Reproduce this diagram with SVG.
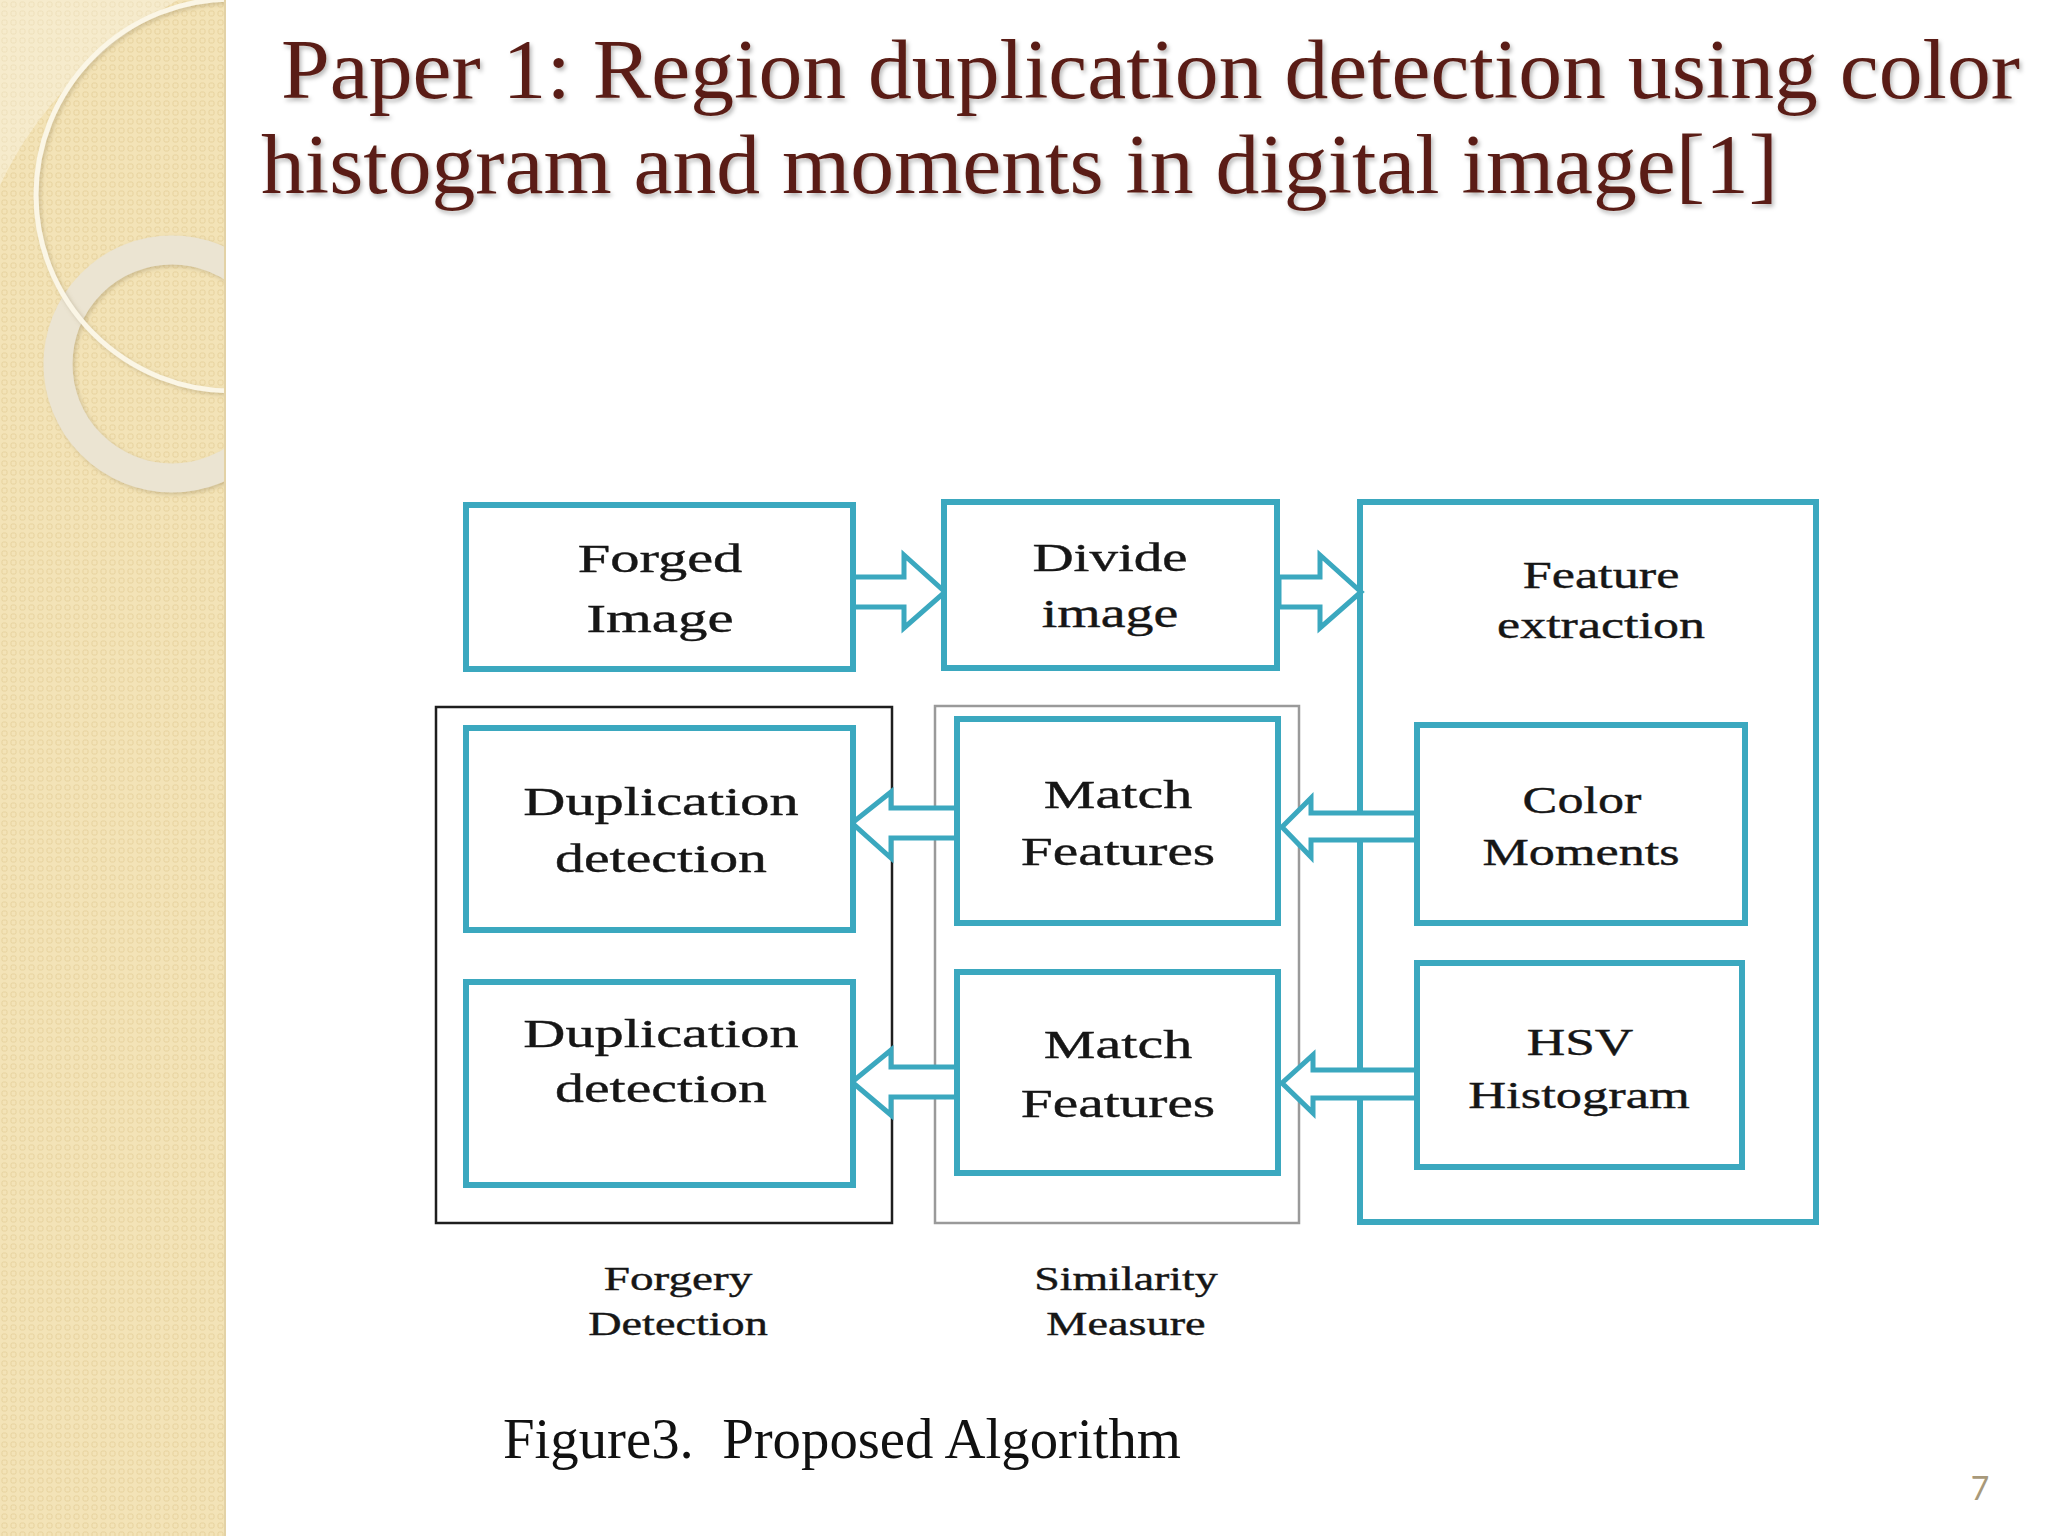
<svg xmlns="http://www.w3.org/2000/svg" width="2048" height="1536" viewBox="0 0 2048 1536">
<defs>
<style>
.box{fill:#ffffff;stroke:#3ba8bf;stroke-width:6}
.cont{fill:none;stroke:#3ba8bf;stroke-width:6}
.arrow{fill:#ffffff;stroke:#3ba8bf;stroke-width:5;stroke-linejoin:miter}
.t{font-family:"Liberation Serif","Times New Roman",serif;fill:#161616;stroke:#161616;stroke-width:0.4;text-anchor:middle}
.t40{font-size:41px}
.t37{font-size:38px}
.t33{font-size:33px}
.title{font-family:"Liberation Serif","Times New Roman",serif;font-size:84px;fill:#5a1f15}
</style>
<pattern id="dots" width="9" height="9" patternUnits="userSpaceOnUse">
<rect width="9" height="9" fill="#f3e3b7"/>
<rect x="2" y="2" width="5" height="5" rx="1.5" fill="none" stroke="#e7d29d" stroke-width="1"/>
</pattern>
<clipPath id="band"><rect x="0" y="0" width="226" height="1536"/></clipPath>
<filter id="shadow" x="-5%" y="-20%" width="110%" height="150%">
<feDropShadow dx="2" dy="3" stdDeviation="2" flood-color="#000" flood-opacity="0.28"/>
</filter>
<filter id="soft" x="-20%" y="-20%" width="140%" height="140%">
<feDropShadow dx="2" dy="2" stdDeviation="2" flood-color="#8a7a50" flood-opacity="0.35"/>
</filter>
</defs>

<rect x="0" y="0" width="2048" height="1536" fill="#ffffff"/>

<g id="side-band">
<rect x="0" y="0" width="226" height="1536" fill="url(#dots)"/>
<g clip-path="url(#band)">
<path d="M0,0 L178,0 Q55,70 0,185 Z" fill="#ffffff" fill-opacity="0.3"/>
<circle cx="172" cy="364" r="114" fill="none" stroke="#ebe4d2" stroke-width="29" filter="url(#soft)"/>
<circle cx="232" cy="195" r="196" fill="none" stroke="#fbf6e6" stroke-width="5" filter="url(#soft)"/>
</g>
<rect x="224" y="0" width="2" height="1536" fill="#e3d2a6"/>
</g>

<g id="title" filter="url(#shadow)">
<text class="title" x="281" y="98" textLength="1739" lengthAdjust="spacingAndGlyphs">Paper 1: Region duplication detection using color</text>
<text class="title" x="261" y="193" textLength="1517" lengthAdjust="spacingAndGlyphs">histogram and moments in digital image[1]</text>
</g>

<g id="containers">
<rect id="forgery-detection-group" x="436" y="707" width="456" height="516" fill="none" stroke="#1e1e1e" stroke-width="2.5"/>
<rect id="similarity-measure-group" x="935" y="706" width="364" height="517" fill="none" stroke="#9a9a9a" stroke-width="2.5"/>
<g id="feature-extraction">
<rect class="cont" x="1360" y="502" width="456" height="720"/>
<text class="t t37" transform="translate(1601,588) scale(1.35,1)" textLength="116" lengthAdjust="spacingAndGlyphs">Feature</text>
<text class="t t37" transform="translate(1601,638) scale(1.35,1)" textLength="154" lengthAdjust="spacingAndGlyphs">extraction</text>
</g>
</g>

<g id="connectors">
<polygon class="arrow" points="853,577 904,577 904,555 945,592 904,628 904,607 853,607"/>
<polygon class="arrow" points="1279,577 1320,577 1320,555 1361,592 1320,628 1320,607 1279,607"/>
<polygon class="arrow" points="1417,813 1311,813 1311,798 1282,827 1311,857 1311,840 1417,840"/>
<polygon class="arrow" points="1417,1070 1313,1070 1313,1055 1282,1083 1313,1113 1313,1098 1417,1098"/>
<polygon class="arrow" points="957,808 891,808 891,792 852,823 891,858 891,838 957,838"/>
<polygon class="arrow" points="957,1067 891,1067 891,1050 852,1082 891,1115 891,1097 957,1097"/>
</g>

<g id="forged-image">
<rect class="box" x="466" y="505" width="387" height="164"/>
<text class="t t40" transform="translate(660,572) scale(1.35,1)" textLength="122" lengthAdjust="spacingAndGlyphs">Forged</text>
<text class="t t40" transform="translate(660,632) scale(1.35,1)" textLength="109" lengthAdjust="spacingAndGlyphs">Image</text>
</g>

<g id="divide-image">
<rect class="box" x="944" y="502" width="333" height="166"/>
<text class="t t40" transform="translate(1110,571) scale(1.35,1)" textLength="115" lengthAdjust="spacingAndGlyphs">Divide</text>
<text class="t t40" transform="translate(1110,627) scale(1.35,1)" textLength="101" lengthAdjust="spacingAndGlyphs">image</text>
</g>

<g id="color-moments">
<rect class="box" x="1417" y="725" width="328" height="198"/>
<text class="t t37" transform="translate(1582,813) scale(1.35,1)" textLength="88" lengthAdjust="spacingAndGlyphs">Color</text>
<text class="t t37" transform="translate(1581,865) scale(1.35,1)" textLength="146" lengthAdjust="spacingAndGlyphs">Moments</text>
</g>

<g id="hsv-histogram">
<rect class="box" x="1417" y="963" width="325" height="204"/>
<text class="t t37" transform="translate(1580,1055) scale(1.35,1)" textLength="79" lengthAdjust="spacingAndGlyphs">HSV</text>
<text class="t t37" transform="translate(1579,1108) scale(1.35,1)" textLength="164" lengthAdjust="spacingAndGlyphs">Histogram</text>
</g>

<g id="match-features-1">
<rect class="box" x="957" y="719" width="321" height="204"/>
<text class="t t40" transform="translate(1118,808) scale(1.35,1)" textLength="110" lengthAdjust="spacingAndGlyphs">Match</text>
<text class="t t40" transform="translate(1118,865) scale(1.35,1)" textLength="144" lengthAdjust="spacingAndGlyphs">Features</text>
</g>

<g id="match-features-2">
<rect class="box" x="957" y="972" width="321" height="201"/>
<text class="t t40" transform="translate(1118,1058) scale(1.35,1)" textLength="110" lengthAdjust="spacingAndGlyphs">Match</text>
<text class="t t40" transform="translate(1118,1117) scale(1.35,1)" textLength="144" lengthAdjust="spacingAndGlyphs">Features</text>
</g>

<g id="duplication-detection-1">
<rect class="box" x="466" y="728" width="387" height="202"/>
<text class="t t40" transform="translate(661,815) scale(1.35,1)" textLength="204" lengthAdjust="spacingAndGlyphs">Duplication</text>
<text class="t t40" transform="translate(661,872) scale(1.35,1)" textLength="157" lengthAdjust="spacingAndGlyphs">detection</text>
</g>

<g id="duplication-detection-2">
<rect class="box" x="466" y="982" width="387" height="203"/>
<text class="t t40" transform="translate(661,1047) scale(1.35,1)" textLength="204" lengthAdjust="spacingAndGlyphs">Duplication</text>
<text class="t t40" transform="translate(661,1102) scale(1.35,1)" textLength="157" lengthAdjust="spacingAndGlyphs">detection</text>
</g>

<g id="group-labels">
<text class="t t33" transform="translate(678,1290) scale(1.35,1)" textLength="110" lengthAdjust="spacingAndGlyphs">Forgery</text>
<text class="t t33" transform="translate(678,1335) scale(1.35,1)" textLength="133" lengthAdjust="spacingAndGlyphs">Detection</text>
<text class="t t33" transform="translate(1126,1290) scale(1.35,1)" textLength="136" lengthAdjust="spacingAndGlyphs">Similarity</text>
<text class="t t33" transform="translate(1126,1335) scale(1.35,1)" textLength="118" lengthAdjust="spacingAndGlyphs">Measure</text>
</g>

<text x="503" y="1458" font-family="Liberation Serif, Times New Roman, serif" font-size="56" fill="#111111" textLength="678" lengthAdjust="spacingAndGlyphs" style="white-space:pre">Figure3.  Proposed Algorithm</text>
<text x="1980" y="1500" font-family="Lato, Open Sans, sans-serif" font-size="32" fill="#a8997a" text-anchor="middle">7</text>
</svg>
